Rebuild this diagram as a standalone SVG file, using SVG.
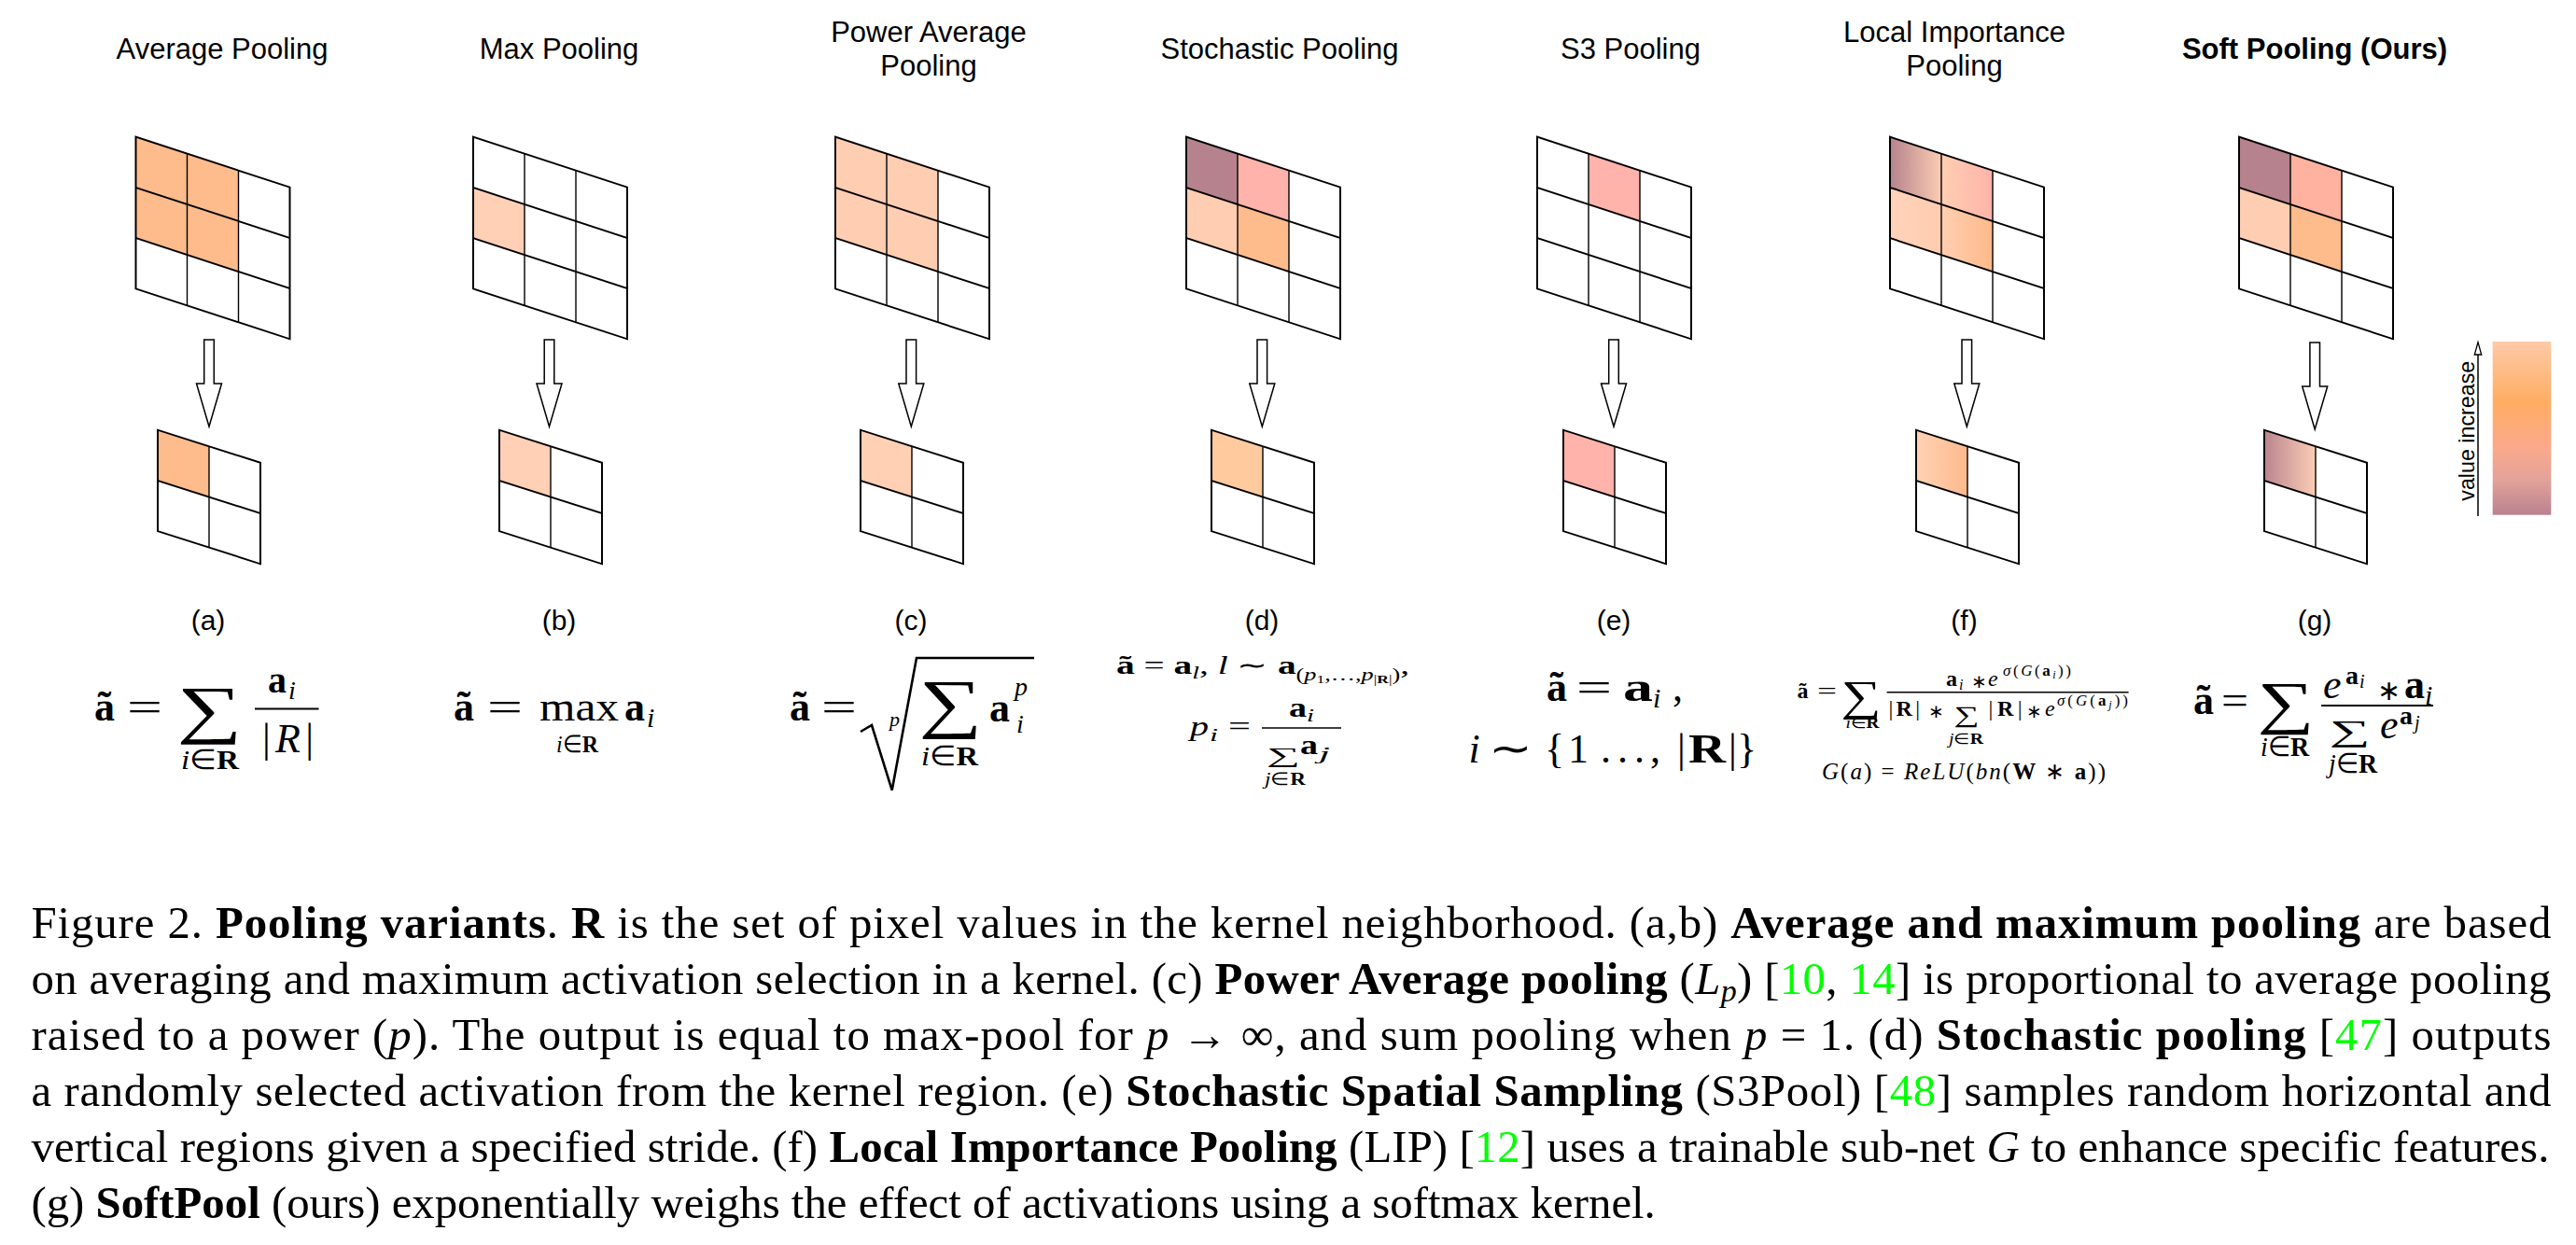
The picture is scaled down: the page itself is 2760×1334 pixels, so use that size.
<svg xmlns="http://www.w3.org/2000/svg" xmlns:xlink="http://www.w3.org/1999/xlink" width="2760" height="1334" viewBox="0 0 2760 1334">
<style>
.t{font-family:"Liberation Sans",Arial,sans-serif;font-size:31px;fill:#000;text-anchor:middle}
.lbl{font-family:"Liberation Sans",Arial,sans-serif;font-size:30px;fill:#000;text-anchor:middle}
.m{font-family:"Liberation Serif","Times New Roman",serif;fill:#000}
.b{font-weight:bold}
.i{font-style:italic}
.mid{text-anchor:middle}
.cap{font-family:"Liberation Serif","Times New Roman",serif;font-size:48.8px;fill:#000}
.ref{fill:#00ff00}
.ln{fill:none;stroke:#000;stroke-width:2}
.lt{fill:none;stroke:#000;stroke-width:1.4}
.arrow{fill:#fff;stroke:#000;stroke-width:1.5;stroke-linejoin:miter}
.bar{stroke:#000;stroke-width:2}
</style>
<defs>
<g id="g3lines">
<rect x="0" y="0" width="165" height="162.6" class="ln"/>
<path d="M55 0V162.6M110 0V162.6" class="lt"/>
<path d="M0 54.2H165M0 108.4H165" class="ln"/>
</g>
<g id="g2lines">
<rect x="0" y="0" width="110" height="108.4" class="ln"/>
<path d="M55 0V108.4" class="lt"/>
<path d="M0 54.2H110" class="ln"/>
</g>
<path id="dn" d="M-5.3 0H5.3V47H13.5L0 93L-13.5 47H-5.3Z"/>
<linearGradient id="gLip1" x1="0" y1="0" x2="1" y2="0"><stop offset="0" stop-color="#B5838D"/><stop offset="1" stop-color="#FBCCB3"/></linearGradient>
<linearGradient id="gLip2" x1="0" y1="0" x2="1" y2="0"><stop offset="0" stop-color="#FFCEB2"/><stop offset="1" stop-color="#FFB3A9"/></linearGradient>
<linearGradient id="gLip3" x1="0" y1="0" x2="1" y2="0"><stop offset="0" stop-color="#FFD3BA"/><stop offset="1" stop-color="#FFCCB0"/></linearGradient>
<linearGradient id="gLip4" x1="0" y1="0" x2="1" y2="0"><stop offset="0" stop-color="#FFCFB2"/><stop offset="1" stop-color="#FEB98A"/></linearGradient>
<linearGradient id="gF" x1="0" y1="0" x2="1" y2="0"><stop offset="0" stop-color="#FFD2B5"/><stop offset="1" stop-color="#FEBA8C"/></linearGradient>
<linearGradient id="gG" x1="0" y1="0" x2="1" y2="0"><stop offset="0" stop-color="#BA8590"/><stop offset="1" stop-color="#FBCDB5"/></linearGradient>
<linearGradient id="gLeg" x1="0" y1="0" x2="0" y2="1"><stop offset="0" stop-color="#FECAA8"/><stop offset="0.35" stop-color="#FEAD62"/><stop offset="0.6" stop-color="#FCA98A"/><stop offset="0.8" stop-color="#E3A29A"/><stop offset="1" stop-color="#B9828F"/></linearGradient>
</defs>

<!-- titles -->
<g id="titles">
<text class="t" x="238" y="62.5">Average Pooling</text>
<text class="t" x="599" y="62.5">Max Pooling</text>
<text class="t" x="995" y="44.5">Power Average</text>
<text class="t" x="995" y="81">Pooling</text>
<text class="t" x="1371" y="62.5">Stochastic Pooling</text>
<text class="t" x="1747" y="62.5">S3 Pooling</text>
<text class="t" x="2094" y="44.5">Local Importance</text>
<text class="t" x="2094" y="81">Pooling</text>
<text class="t" x="2480" y="62.5" font-weight="bold">Soft Pooling (Ours)</text>
</g>

<!-- input grids -->
<g id="a-input" transform="translate(145.5,146.7) skewY(18.12)">
<rect x="0" y="0" width="110" height="108.4" fill="#FEBB8C"/>
<use href="#g3lines"/>
</g>
<g id="b-input" transform="translate(507,146.7) skewY(18.12)">
<rect x="0" y="54.2" width="55" height="54.2" fill="#FFD0B6"/>
<use href="#g3lines"/>
</g>
<g id="c-input" transform="translate(895,146.7) skewY(18.12)">
<rect x="0" y="0" width="110" height="108.4" fill="#FFCDB1"/>
<use href="#g3lines"/>
</g>
<g id="d-input" transform="translate(1271,146.7) skewY(18.12)">
<rect x="0" y="0" width="55" height="54.2" fill="#B5828D"/>
<rect x="55" y="0" width="55" height="54.2" fill="#FFB3AA"/>
<rect x="0" y="54.2" width="55" height="54.2" fill="#FFCDB1"/>
<rect x="55" y="54.2" width="55" height="54.2" fill="#FEBB8C"/>
<use href="#g3lines"/>
</g>
<g id="e-input" transform="translate(1647,146.7) skewY(18.12)">
<rect x="55" y="0" width="55" height="54.2" fill="#FFB3AA"/>
<use href="#g3lines"/>
</g>
<g id="f-input" transform="translate(2025,146.7) skewY(18.12)">
<rect x="0" y="0" width="55" height="54.2" fill="url(#gLip1)"/>
<rect x="55" y="0" width="55" height="54.2" fill="url(#gLip2)"/>
<rect x="0" y="54.2" width="55" height="54.2" fill="url(#gLip3)"/>
<rect x="55" y="54.2" width="55" height="54.2" fill="url(#gLip4)"/>
<use href="#g3lines"/>
</g>
<g id="g-input" transform="translate(2399,146.7) skewY(18.12)">
<rect x="0" y="0" width="55" height="54.2" fill="#B5828D"/>
<rect x="55" y="0" width="55" height="54.2" fill="#FFB29F"/>
<rect x="0" y="54.2" width="55" height="54.2" fill="#FFCDB1"/>
<rect x="55" y="54.2" width="55" height="54.2" fill="#FEBB8C"/>
<use href="#g3lines"/>
</g>

<!-- connectors -->
<g id="connectors" class="arrow">
<use href="#dn" transform="translate(224,364)"/>
<use href="#dn" transform="translate(588.5,364)"/>
<use href="#dn" transform="translate(976.3,364)"/>
<use href="#dn" transform="translate(1352.3,364)"/>
<use href="#dn" transform="translate(1729,364)"/>
<use href="#dn" transform="translate(2107.3,364)"/>
<use href="#dn" transform="translate(2480.2,367)"/>
</g>

<!-- output grids -->
<g id="a-output" transform="translate(169,460.7) skewY(17.7)">
<rect x="0" y="0" width="55" height="54.2" fill="#FEBB8C"/>
<use href="#g2lines"/>
</g>
<g id="b-output" transform="translate(535,460.7) skewY(17.7)">
<rect x="0" y="0" width="55" height="54.2" fill="#FFD0B6"/>
<use href="#g2lines"/>
</g>
<g id="c-output" transform="translate(922,460.7) skewY(17.7)">
<rect x="0" y="0" width="55" height="54.2" fill="#FFD0B4"/>
<use href="#g2lines"/>
</g>
<g id="d-output" transform="translate(1298,460.7) skewY(17.7)">
<rect x="0" y="0" width="55" height="54.2" fill="#FFCB9E"/>
<use href="#g2lines"/>
</g>
<g id="e-output" transform="translate(1675,460.7) skewY(17.7)">
<rect x="0" y="0" width="55" height="54.2" fill="#FFB3AA"/>
<use href="#g2lines"/>
</g>
<g id="f-output" transform="translate(2053,460.7) skewY(17.7)">
<rect x="0" y="0" width="55" height="54.2" fill="url(#gF)"/>
<use href="#g2lines"/>
</g>
<g id="g-output" transform="translate(2426,460.7) skewY(17.7)">
<rect x="0" y="0" width="55" height="54.2" fill="url(#gG)"/>
<use href="#g2lines"/>
</g>

<!-- labels -->
<g id="labels">
<text class="lbl" x="223" y="675">(a)</text>
<text class="lbl" x="599" y="675">(b)</text>
<text class="lbl" x="976" y="675">(c)</text>
<text class="lbl" x="1352" y="675">(d)</text>
<text class="lbl" x="1729" y="675">(e)</text>
<text class="lbl" x="2104.5" y="675">(f)</text>
<text class="lbl" x="2480" y="675">(g)</text>
</g>

<!-- formula a -->
<g id="formula-a" class="m">
<text x="101" y="772" font-size="44" class="b">ã</text>
<text x="136" y="772" font-size="44" textLength="38" lengthAdjust="spacingAndGlyphs">=</text>
<text x="224.5" y="783" font-size="69" class="mid" textLength="70" lengthAdjust="spacingAndGlyphs">∑</text>
<text x="194" y="824" font-size="30" textLength="62" lengthAdjust="spacingAndGlyphs"><tspan class="i">i</tspan>∈<tspan class="b">R</tspan></text>
<text x="287" y="742" font-size="40" class="b">a</text>
<text x="309" y="749" font-size="28" class="i">i</text>
<line x1="273" y1="759.5" x2="341.5" y2="759.5" class="bar"/>
<text x="281" y="806" font-size="44" textLength="55" lengthAdjust="spacing">|<tspan class="i">R</tspan>|</text>
</g>

<!-- formula b -->
<g id="formula-b" class="m">
<text x="486" y="772" font-size="44" class="b">ã</text>
<text x="522" y="772" font-size="44" textLength="38" lengthAdjust="spacingAndGlyphs">=</text>
<text x="578" y="772" font-size="44" textLength="85" lengthAdjust="spacingAndGlyphs">max</text>
<text x="669" y="772" font-size="44" class="b">a</text>
<text x="693" y="779" font-size="30" class="i">i</text>
<text x="596" y="806" font-size="26" textLength="45" lengthAdjust="spacingAndGlyphs"><tspan class="i">i</tspan>∈<tspan class="b">R</tspan></text>
</g>

<!-- formula c -->
<g id="formula-c" class="m">
<text x="846" y="772" font-size="44" class="b">ã</text>
<text x="880" y="772" font-size="44" textLength="38" lengthAdjust="spacingAndGlyphs">=</text>
<path d="M922 784L934 777L955.7 846.7L982 705H1108" fill="none" stroke="#000" stroke-width="2.6" stroke-linejoin="miter"/>
<text x="953" y="778" font-size="22" class="i">p</text>
<text x="1018.5" y="777" font-size="70" class="mid" textLength="68" lengthAdjust="spacingAndGlyphs">∑</text>
<text x="987" y="820" font-size="30" textLength="61" lengthAdjust="spacingAndGlyphs"><tspan class="i">i</tspan>∈<tspan class="b">R</tspan></text>
<text x="1060" y="773" font-size="44" class="b">a</text>
<text x="1087" y="745" font-size="28" class="i">p</text>
<text x="1089" y="785" font-size="28" class="i">i</text>
</g>

<!-- formula d -->
<g id="formula-d" class="m">
<text x="1196" y="722" font-size="27" textLength="314" lengthAdjust="spacingAndGlyphs"><tspan class="b">ã</tspan> = <tspan class="b">a</tspan><tspan class="i" font-size="19" dy="5">l</tspan><tspan dy="-5">, </tspan><tspan class="i">l</tspan> ∼ <tspan class="b">a</tspan><tspan font-size="18" dy="7">(</tspan><tspan class="i" font-size="18">p</tspan><tspan font-size="12" dy="3">1</tspan><tspan font-size="18" dy="-3">,…,</tspan><tspan class="i" font-size="18">p</tspan><tspan font-size="12" dy="3">|</tspan><tspan font-size="12" class="b">R</tspan><tspan font-size="12">|</tspan><tspan font-size="18" dy="-3">)</tspan><tspan dy="-7">,</tspan></text>
<text x="1275" y="788" font-size="29" class="i" textLength="20" lengthAdjust="spacingAndGlyphs">p</text>
<text x="1296" y="794" font-size="19" class="i" textLength="9" lengthAdjust="spacingAndGlyphs">i</text>
<text x="1316" y="788" font-size="29" textLength="24" lengthAdjust="spacingAndGlyphs">=</text>
<text x="1381" y="768" font-size="29" class="b" textLength="19" lengthAdjust="spacingAndGlyphs">a</text>
<text x="1400" y="773" font-size="19" class="i" textLength="8" lengthAdjust="spacingAndGlyphs">i</text>
<line x1="1352" y1="780" x2="1437" y2="780" stroke="#000" stroke-width="1.6"/>
<text x="1375" y="817" font-size="23" class="mid" textLength="36" lengthAdjust="spacingAndGlyphs">∑</text>
<text x="1393" y="808" font-size="29" class="b" textLength="19" lengthAdjust="spacingAndGlyphs">a</text>
<text x="1413" y="814" font-size="19" class="i" textLength="12" lengthAdjust="spacingAndGlyphs">j</text>
<text x="1355" y="841" font-size="19" textLength="44" lengthAdjust="spacingAndGlyphs"><tspan class="i">j</tspan>∈<tspan class="b">R</tspan></text>
</g>

<!-- formula e -->
<g id="formula-e" class="m">
<text x="1657" y="751" font-size="44" class="b">ã</text>
<text x="1689" y="751" font-size="44" textLength="38" lengthAdjust="spacingAndGlyphs">=</text>
<text x="1739" y="751" font-size="44" class="b" textLength="32" lengthAdjust="spacingAndGlyphs">a</text>
<text x="1771" y="758" font-size="30" class="i">i</text>
<text x="1792" y="751" font-size="44">,</text>
<text x="1573.5" y="817" font-size="44" class="i">i</text>
<text x="1595" y="817" font-size="44" textLength="47" lengthAdjust="spacingAndGlyphs">∼</text>
<text x="1655" y="817" font-size="44">{</text>
<text x="1680" y="817" font-size="44">1</text>
<text x="1715" y="817" font-size="44" textLength="47" lengthAdjust="spacing">. . .</text>
<text x="1768" y="817" font-size="44">,</text>
<text x="1797" y="817" font-size="44">|</text>
<text x="1809" y="817" font-size="44" class="b" textLength="40" lengthAdjust="spacingAndGlyphs">R</text>
<text x="1852" y="817" font-size="44">|</text>
<text x="1861" y="817" font-size="44">}</text>
</g>

<!-- formula f -->
<g id="formula-f" class="m">
<text x="1925.5" y="748" font-size="24" class="b">ã</text>
<text x="1947" y="748" font-size="24" textLength="21" lengthAdjust="spacingAndGlyphs">=</text>
<text x="1994" y="760.5" font-size="46" class="mid" textLength="43" lengthAdjust="spacingAndGlyphs">∑</text>
<text x="1977.5" y="780" font-size="16" textLength="36" lengthAdjust="spacingAndGlyphs"><tspan class="i">i</tspan>∈<tspan class="b">R</tspan></text>
<line x1="2021.6" y1="741.7" x2="2280.6" y2="741.7" stroke="#000" stroke-width="1.5"/>
<text x="2085" y="735" font-size="24" class="b">a</text>
<text x="2099" y="739" font-size="16" class="i">i</text>
<text x="2120" y="737" font-size="20" class="mid">∗</text>
<text x="2130" y="735" font-size="24" class="i">e</text>
<text x="2146" y="724" font-size="17" textLength="73" lengthAdjust="spacing"><tspan class="i">σ</tspan>(<tspan class="i">G</tspan>(<tspan class="b">a</tspan><tspan class="i" font-size="12" dy="3">i</tspan><tspan dy="-3">))</tspan></text>
<text x="2023.5" y="767" font-size="24" textLength="33.5" lengthAdjust="spacing">|<tspan class="b">R</tspan>|</text>
<text x="2074" y="769" font-size="20" class="mid">∗</text>
<text x="2107" y="773.5" font-size="25" class="mid" textLength="27" lengthAdjust="spacingAndGlyphs">∑</text>
<text x="2130.6" y="767" font-size="24" textLength="36" lengthAdjust="spacing">|<tspan class="b">R</tspan>|</text>
<text x="2179" y="769" font-size="20" class="mid">∗</text>
<text x="2191" y="767" font-size="24" class="i">e</text>
<text x="2204" y="756" font-size="17" textLength="76" lengthAdjust="spacing"><tspan class="i">σ</tspan>(<tspan class="i">G</tspan>(<tspan class="b">a</tspan><tspan class="i" font-size="12" dy="3">j</tspan><tspan dy="-3">))</tspan></text>
<text x="2088" y="797" font-size="16" textLength="37" lengthAdjust="spacingAndGlyphs"><tspan class="i">j</tspan>∈<tspan class="b">R</tspan></text>
<text x="1952" y="835" font-size="25" textLength="304" lengthAdjust="spacing"><tspan class="i">G</tspan>(<tspan class="i">a</tspan>) = <tspan class="i">ReLU</tspan>(<tspan class="i">bn</tspan>(<tspan class="b">W</tspan> ∗ <tspan class="b">a</tspan>))</text>
</g>

<!-- formula g -->
<g id="formula-g" class="m">
<text x="2350" y="765" font-size="44" class="b">ã</text>
<text x="2380" y="765" font-size="44" textLength="29" lengthAdjust="spacingAndGlyphs">=</text>
<text x="2449" y="774" font-size="62.5" class="mid" textLength="61" lengthAdjust="spacingAndGlyphs">∑</text>
<text x="2422" y="810" font-size="30" textLength="52" lengthAdjust="spacingAndGlyphs"><tspan class="i">i</tspan>∈<tspan class="b">R</tspan></text>
<line x1="2487" y1="756" x2="2607" y2="756" class="bar"/>
<text x="2489" y="748" font-size="44" class="i">e</text>
<text x="2513" y="733" font-size="28" class="b">a</text>
<text x="2528" y="737" font-size="20" class="i">i</text>
<text x="2559" y="750" font-size="30" class="mid">∗</text>
<text x="2576" y="748" font-size="44" class="b">a</text>
<text x="2598" y="755" font-size="30" class="i">i</text>
<text x="2518" y="793.5" font-size="32" class="mid" textLength="44" lengthAdjust="spacingAndGlyphs">∑</text>
<text x="2550" y="791" font-size="44" class="i">e</text>
<text x="2571" y="776" font-size="28" class="b">a</text>
<text x="2587" y="781" font-size="20" class="i">j</text>
<text x="2495" y="828" font-size="30" textLength="52" lengthAdjust="spacingAndGlyphs"><tspan class="i">j</tspan>∈<tspan class="b">R</tspan></text>
</g>

<!-- legend -->
<g id="legend">
<rect x="2670.7" y="366" width="62.6" height="185.7" fill="url(#gLeg)"/>
<line x1="2655" y1="553" x2="2655" y2="380" stroke="#000" stroke-width="1.5"/>
<path d="M2655 366.7L2651.3 380H2658.7Z" fill="#fff" stroke="#000" stroke-width="1.3"/>
<text transform="translate(2650.5,461.7) rotate(-90)" font-family="Liberation Sans,Arial,sans-serif" font-size="24" text-anchor="middle" textLength="150" lengthAdjust="spacingAndGlyphs">value increase</text>
</g>

<!-- caption -->
<g id="caption" class="cap">
<text x="33.4" y="1005" textLength="2700" lengthAdjust="spacing">Figure 2. <tspan class="b">Pooling variants</tspan>. <tspan class="b">R</tspan> is the set of pixel values in the kernel neighborhood. (a,b) <tspan class="b">Average and maximum pooling</tspan> are based</text>
<text x="33.4" y="1065" textLength="2700" lengthAdjust="spacing">on averaging and maximum activation selection in a kernel. (c) <tspan class="b">Power Average pooling</tspan> (<tspan class="i">L</tspan><tspan class="i" font-size="34" dy="8">p</tspan><tspan dy="-8">)</tspan> [<tspan class="ref">10</tspan>, <tspan class="ref">14</tspan>] is proportional to average pooling</text>
<text x="33.4" y="1125" textLength="2700" lengthAdjust="spacing">raised to a power (<tspan class="i">p</tspan>). The output is equal to max-pool for <tspan class="i">p</tspan> → ∞, and sum pooling when <tspan class="i">p</tspan> = 1. (d) <tspan class="b">Stochastic pooling</tspan> [<tspan class="ref">47</tspan>] outputs</text>
<text x="33.4" y="1185" textLength="2700" lengthAdjust="spacing">a randomly selected activation from the kernel region. (e) <tspan class="b">Stochastic Spatial Sampling</tspan> (S3Pool) [<tspan class="ref">48</tspan>] samples random horizontal and</text>
<text x="33.4" y="1245" textLength="2698" lengthAdjust="spacing">vertical regions given a specified stride. (f) <tspan class="b">Local Importance Pooling</tspan> (LIP) [<tspan class="ref">12</tspan>] uses a trainable sub-net <tspan class="i">G</tspan> to enhance specific features.</text>
<text x="33.4" y="1305">(g) <tspan class="b">SoftPool</tspan> (ours) exponentially weighs the effect of activations using a softmax kernel.</text>
</g>
</svg>
